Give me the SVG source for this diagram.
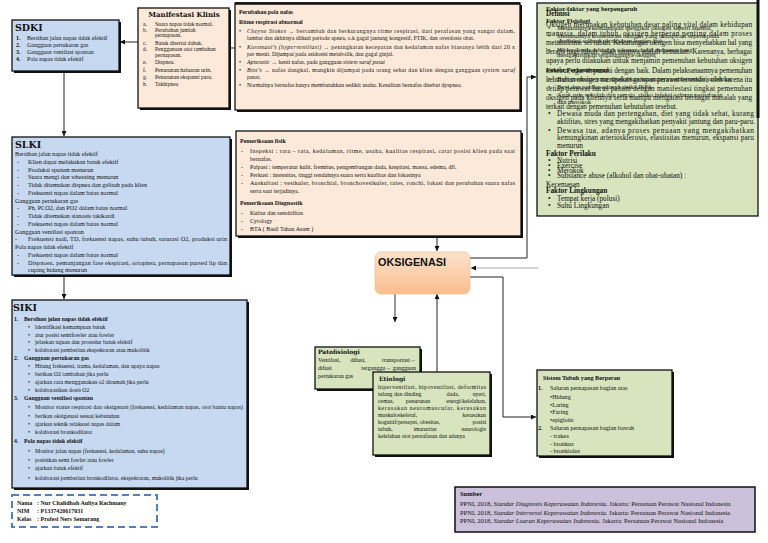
<svg xmlns="http://www.w3.org/2000/svg" width="768" height="543" viewBox="0 0 768 543">
<defs>
<marker id="ah" viewBox="0 0 6 6" refX="6" refY="3" markerWidth="5" markerHeight="5" orient="auto" markerUnits="userSpaceOnUse"><path d="M0,0 L6,3 L0,6 z" fill="#111"/></marker>
<linearGradient id="og" x1="0" y1="0" x2="0" y2="1"><stop offset="0" stop-color="#fde2cc"/><stop offset="1" stop-color="#f9bd8c"/></linearGradient>
<style>
.t{font-family:"Liberation Serif","Times New Roman",serif;fill:#111}
.b{font-weight:bold}
.i{font-style:italic}
.e{text-anchor:end}
.m{text-anchor:middle}
.ttl{font-family:"DejaVu Serif","Liberation Serif",serif;font-weight:bold;fill:#111}
.sh{fill:#111}
.blue{fill:#c6d9f1;stroke:#111;stroke-width:1.3}
.peach{fill:#fde9d9;stroke:#111;stroke-width:1.3}
.green{fill:#d7e4bd;stroke:#111;stroke-width:1.3}
.lav{fill:#ccc1da;stroke:#111;stroke-width:1.5}
.c{fill:none;stroke:#222;stroke-width:1}
</style>
</defs>
<rect width="768" height="543" fill="#fff"/>

<g id="connectors">
<path class="c" d="M138,42 H120" marker-end="url(#ah)"/>
<path class="c" d="M230,48 H236"/>
<path class="c" d="M64,71 V136" marker-end="url(#ah)"/>
<path class="c" d="M64,277 V299" marker-end="url(#ah)"/>
<path class="c" d="M437,238 V251" marker-end="url(#ah)"/>
<path class="c" d="M470,258 H527 V77 H536" marker-end="url(#ah)"/>
<path d="M538,268 H471" fill="none" stroke="#aaa" stroke-width="1.2" marker-end="url(#ah)"/>
<path class="c" d="M470,277 H503 V417 H536" marker-end="url(#ah)"/>
<path d="M395,294 V322" fill="none" stroke="#999" stroke-width="2" marker-end="url(#ah)"/>
<path class="c" d="M437,372 V294" marker-end="url(#ah)"/>
</g>

<g id="sdki">
<rect class="sh" x="14" y="22" width="107" height="51"/>
<rect class="blue" x="12" y="20" width="107" height="51"/>
<text class="ttl" x="15" y="31" font-size="9.5">SDKI</text>
<g class="t" font-size="6">
<text x="16" y="40" class="b">1.</text><text x="27" y="40">Bersihan jalan napas tidak efektif</text>
<text x="16" y="47" class="b">2.</text><text x="27" y="47">Gangguan pertukaran gas</text>
<text x="16" y="54" class="b">3.</text><text x="27" y="54">Gangguan ventilasi spontan</text>
<text x="16" y="61" class="b">4.</text><text x="27" y="61">Pola napas tidak efektif</text>
</g>
</g>

<g id="manifestasi">
<rect class="sh" x="140" y="10" width="91" height="100"/>
<rect class="peach" x="138" y="8" width="91" height="100"/>
<text class="ttl" x="184" y="17" font-size="7" text-anchor="middle">Manifestasi  Klinis</text>
<g class="t" font-size="5.6">
<text x="143" y="26">a.</text><text x="155" y="26">Suara napas tidak normal.</text>
<text x="143" y="32">b.</text><text x="155" y="32">Perubahan jumlah</text>
<text x="155" y="37">pernapasan.</text>
<text x="143" y="45">c.</text><text x="155" y="45">Batuk disertai dahak.</text>
<text x="143" y="51">d.</text><text x="155" y="51">Penggunaan otot tambahan</text>
<text x="155" y="57">pernapasan.</text>
<text x="143" y="64">e.</text><text x="155" y="64">Dispnea.</text>
<text x="143" y="72">f.</text><text x="155" y="72">Penurunan haluaran urin.</text>
<text x="143" y="79">g.</text><text x="155" y="79">Penurunan ekspansi paru.</text>
<text x="143" y="86">h.</text><text x="155" y="86">Takhipnea</text>
</g>
</g>

<g id="perubahan">
<rect class="sh" x="237" y="5" width="285" height="107"/>
<rect class="peach" x="235" y="3" width="285" height="107"/>
<line x1="235" y1="3.5" x2="520" y2="3.5" stroke="#111" stroke-width="2.5"/>
<g class="t" font-size="5.8">
<text x="239" y="14" class="b">Perubahan  pola nafas</text>
<text x="239" y="24" class="b">Ritme respirasi abnormal</text>
<text x="239" y="33">•</text><text x="247" y="33" textLength="268" lengthAdjust="spacing"><tspan class="i">Cheyne Stokes</tspan> → bertambah  dan berkurangnya ritme respirasi, dari perafasan yang sangat dalam,</text>
<text x="247" y="40">lambat dan akhirnya diikuti periode apnea, o.k gagal jantung kongestif, PTIK, dan overdosis obat.</text>
<text x="239" y="49">•</text><text x="247" y="49" textLength="268" lengthAdjust="spacing"><tspan class="i">Kussmaul’s (hyperventilasi)</tspan> → peningkatan kecepatan dan kedalaman nafas  biasanya lebih dari 20 x</text>
<text x="247" y="56">per menit. Dijumpai pada asidosisi metabolik, dan gagal ginjal.</text>
<text x="239" y="64">•</text><text x="247" y="64"><tspan class="i">Apneustic</tspan> → henti nafas, pada  gangguan <tspan class="i">sistem saraf pusat</tspan></text>
<text x="239" y="72">•</text><text x="247" y="72" textLength="268" lengthAdjust="spacing"><tspan class="i">Biot’s</tspan> → nafas dangkal, mungkin dijumpai pada orang sehat dan klien dengan gangguan <tspan class="i">system saraf</tspan></text>
<text x="247" y="79">pusat.</text>
<text x="239" y="87">•</text><text x="247" y="87">Normalnya bernafas hanya membutuhkan sedikit usaha. Kesulitan bernafas disebut  dyspnea.</text>
</g>
</g>

<g id="pemeriksaan">
<rect class="sh" x="238" y="133" width="285" height="105"/>
<rect class="peach" x="236" y="131" width="285" height="105"/>
<g class="t" font-size="6">
<text x="240" y="143" class="b">Pemeriksaan  fisik</text>
<text x="241" y="153">-</text><text x="250" y="153" textLength="265" lengthAdjust="spacing">Inspeksi : rata – rata, kedalaman, ritme, usaha, kualitas respirasi, catat posisi klien pada saat</text>
<text x="250" y="161">bernafas.</text>
<text x="241" y="169">-</text><text x="250" y="169">Palpasi : temperatur kulit, fremitus, pengembangan dada, krepitasi, massa, edema, dll.</text>
<text x="241" y="177">-</text><text x="250" y="177">Perkusi : intensitas, tinggi rendahnya suara serta kualitas dan lokasinya</text>
<text x="241" y="185">-</text><text x="250" y="185" textLength="265" lengthAdjust="spacing">Auskultasi : vesikuler, bronchial, bronchovesikuler, rales, ronchi, lokasi dan perubahan suara nafas</text>
<text x="250" y="193">serta saat terjadinya.</text>
<text x="240" y="205" class="b">Pemeriksaan Diagnostik</text>
<text x="241" y="215">-</text><text x="250" y="215">Kultur dan sensitifitas</text>
<text x="241" y="223">-</text><text x="250" y="223">Cytology</text>
<text x="241" y="231">-</text><text x="250" y="231">BTA ( Basil Tahan Asam )</text>
</g>
</g>

<g id="faktor">
<rect class="green" x="537" y="3" width="221" height="213"/>
<line x1="758" y1="0" x2="758" y2="118" stroke="#111" stroke-width="3"/>
<g class="t" font-size="6.5">
<text x="546" y="11" class="b">Faktor-faktor  yang berpengaruh</text>
<text x="546" y="23" class="b">Faktor Fisiologi</text>
<text x="548" y="30">•</text><text x="557" y="30">Menurunnya kemampuan mengikat oksigen seperti anemia</text>
<text x="548" y="38">•</text><text x="557" y="38">Menurunnya konsentrasi oksigen yang diinspirasi seperti pada</text>
<text x="557" y="43">obstruksi saluran pernapasan bagian atas</text>
<text x="548" y="52">•</text><text x="557" y="52">Hipovolemia sehingga tekanan darah menurun yang</text>
<text x="557" y="57">mengakibatkan terganggunya oksigen</text>
<text x="546" y="72" class="b">Faktor Perkembangan</text>
<text x="548" y="81">•</text><text x="557" y="81">Bayi prematur yang disebabkan kurangnya pembentukan surfaktan</text>
<text x="548" y="89">•</text><text x="557" y="89">Bayi dan toddler adanya risiko ISPA</text>
<text x="548" y="97">•</text><text x="557" y="97">Anak usia sekolah dan remaja, risiko infeksi saluran pernafasan</text>
<text x="557" y="104">dan merokok</text>
</g>
<g class="t" font-size="7.3">
<text x="548" y="116">•</text><text x="557" y="116" textLength="197" lengthAdjust="spacing">Dewasa muda dan pertengahan, diet yang tidak sehat, kurang</text>
<text x="557" y="124">aktifitas, stres yang mengakibatkan penyakit jantung dan paru-paru.</text>
<text x="548" y="133">•</text><text x="557" y="133" textLength="197" lengthAdjust="spacing">Dewasa tua, adanya proses penuaan yang mengakibatkan</text>
<text x="557" y="140" textLength="197" lengthAdjust="spacing">kemungkinan arteriosklerosis, elastisitas menurun, ekspansi paru</text>
<text x="557" y="148">menurun</text>
<text x="546" y="156" class="b">Faktor Perilaku</text>
<text x="548" y="163">•</text><text x="557" y="163">Nutrisi</text>
<text x="548" y="168">•</text><text x="557" y="168">Exercise</text>
<text x="548" y="173">•</text><text x="557" y="173">Merokok</text>
<text x="548" y="178">•</text><text x="557" y="178">Substance abuse (alkohol dan obat-obatan) :</text>
<text x="546" y="187">Kecemasan</text>
<text x="546" y="193" class="b">Faktor Lingkungan</text>
<text x="548" y="201">•</text><text x="557" y="201">Tempat kerja (polusi)</text>
<text x="548" y="208">•</text><text x="557" y="208">Suhu Lingkungan</text>
</g>
</g>

<g id="definisi">
<g class="t" font-size="7.2">
<text x="546" y="16" class="b">Definisi</text>
<text x="546" y="26.5" textLength="206" lengthAdjust="spacing">Oksigen merupakan kebutuhan dasar paling vital dalam kehidupan</text>
<text x="546" y="35.7" textLength="206" lengthAdjust="spacing">manusia, dalam tubuh, oksigen berperan penting dalam proses</text>
<text x="546" y="44.9" textLength="206" lengthAdjust="spacing">metabolisme sel tubuh. Kekurangan oksigen bisa menyebabkan hal yang</text>
<text x="546" y="54.1" textLength="206" lengthAdjust="spacing">berarti bagi tubuh, salah satunya adalah kematian. Karenanya, berbagai</text>
<text x="546" y="63.3" textLength="206" lengthAdjust="spacing">upaya perlu dilakukan untuk menjamin pemenuhan kebutuhan oksigen</text>
<text x="546" y="72.5" textLength="206" lengthAdjust="spacing">tersebut, agar terpenuhi dengan baik. Dalam pelaksanaannya pemenuhan</text>
<text x="546" y="81.7" textLength="206" lengthAdjust="spacing">kebutuhan oksigen merupakan garapan perawat tersendiri, oleh karena itu</text>
<text x="546" y="90.9" textLength="206" lengthAdjust="spacing">setiap perawat harus paham dengan manifestasi tingkat pemenuhan</text>
<text x="546" y="100.1" textLength="206" lengthAdjust="spacing">oksigen pada kliennya serta mampu mengatasi berbagai masalah yang</text>
<text x="546" y="109.3">terkait dengan pemenuhan kebutuhan tesebut.</text>
</g>
</g>

<g id="slki">
<rect class="sh" x="14" y="139" width="218" height="138"/>
<rect class="blue" x="12" y="137" width="218" height="138"/>
<text class="ttl" x="15" y="148" font-size="9.5">SLKI</text>
<g class="t" font-size="6.2">
<text x="15" y="156">Bersihan jalan napas tidak efektif</text>
<text x="17" y="164">-</text><text x="28" y="164">Klien dapat melakukan batuk efektif</text>
<text x="17" y="171.5">-</text><text x="28" y="171.5">Produksi sputum menurun</text>
<text x="17" y="179">-</text><text x="28" y="179">Suara mengi dan wheezing menurun</text>
<text x="17" y="187">-</text><text x="28" y="187">Tidak ditemukan dispnea dan gelisah pada klien</text>
<text x="17" y="195">-</text><text x="28" y="195">Frekuensi napas dalam batas normal</text>
<text x="15" y="202.5">Gangguan pertukaran gas</text>
<text x="17" y="210">-</text><text x="28" y="210">Ph, PCO2, dan PO2 dalam batas normal</text>
<text x="17" y="218">-</text><text x="28" y="218">Tidak ditemukan sianosis takikardi</text>
<text x="17" y="226">-</text><text x="28" y="226">Frekuensi napas dalam batas normal</text>
<text x="15" y="233.5">Gangguan ventilasi spontan</text>
<text x="15" y="241">-</text><text x="28" y="241" textLength="199" lengthAdjust="spacing">Frekuensi nadi, TD, frekuensi napas, suhu tubuh, saturasi O2, produksi urin</text>
<text x="15" y="249">Pola napas tidak efektif</text>
<text x="17" y="257">-</text><text x="28" y="257">Frekuensi napas dalam batas normal</text>
<text x="17" y="265">-</text><text x="28" y="265" textLength="199" lengthAdjust="spacing">Dispnoea, pemanjangan fase ekspirasi, ortopnea, pernapasan pursed lip dan</text>
<text x="28" y="272">cuping hidung menurun</text>
</g>
</g>

<g id="siki">
<rect class="sh" x="14" y="302" width="235" height="188"/>
<rect class="blue" x="12" y="300" width="235" height="188"/>
<text class="ttl" x="13" y="311" font-size="9.5">SIKI</text>
<g class="t" font-size="5.8">
<text x="14" y="321" class="b">1.</text><text x="24" y="321" class="b">Bersihan jalan napas tidak efektif</text>
<text x="28" y="329">•</text><text x="35" y="329">Identifikasi kemampuan batuk</text>
<text x="28" y="336.5">•</text><text x="35" y="336.5">atur posisi semifowler atau fowler</text>
<text x="28" y="344">•</text><text x="35" y="344">jelaskan tujuan dan prosedur batuk efektif</text>
<text x="28" y="351.5">•</text><text x="35" y="351.5">kolaborasi pemberian ekspektoran atau mukolitik</text>
<text x="14" y="360" class="b">2.</text><text x="24" y="360" class="b">Gangguan pertukaran gas</text>
<text x="28" y="368">•</text><text x="35" y="368">Hitung frekuensi, irama, kedalaman, dan upaya napas</text>
<text x="28" y="376">•</text><text x="35" y="376">berikan O2 tambahan jika perlu</text>
<text x="28" y="384">•</text><text x="35" y="384">ajarkan cara menggunakan o2 dirumah jika perlu</text>
<text x="28" y="391.5">•</text><text x="35" y="391.5">kolaborasikan dosis O2</text>
<text x="14" y="400" class="b">3.</text><text x="24" y="400" class="b">Gangguan ventilasi spontan</text>
<text x="28" y="409">•</text><text x="35" y="409" textLength="208" lengthAdjust="spacing">Monitor status respirasi dan oksigenasi (frekuensi, kedalaman napas, otot bantu napas)</text>
<text x="28" y="418">•</text><text x="35" y="418">berikan oksigenasi sesuai kebutuhan</text>
<text x="28" y="426">•</text><text x="35" y="426">ajarkan teknik relaksasi napas dalam</text>
<text x="28" y="434">•</text><text x="35" y="434">kolaborasi bronkodilator</text>
<text x="14" y="443" class="b">4.</text><text x="24" y="443" class="b">Pola napas tidak efektif</text>
<text x="28" y="453">•</text><text x="35" y="453">Monitor jalan napas (frekuensi, kedalaman, suhu napas)</text>
<text x="28" y="461.5">•</text><text x="35" y="461.5">posisikan semi fowler atau fowler</text>
<text x="28" y="470">•</text><text x="35" y="470">ajarkan batuk efektif</text>
<text x="28" y="480">•</text><text x="35" y="480">kolaborasi pemberian bronkodilator, ekspektoran, mukolitik jika perlu</text>
</g>
</g>

<g id="identitas">
<rect x="12" y="495" width="145" height="32" fill="none" stroke="#4f81bd" stroke-width="2" stroke-dasharray="7,4"/>
<g class="t b" font-size="6">
<text x="17" y="505">Nama</text><text x="37" y="505">: Nur Chalidhoh Auliya Rachmany</text>
<text x="17" y="513">NIM</text><text x="37" y="513">: P1337420617031</text>
<text x="17" y="521">Kelas</text><text x="37" y="521">: Profesi Ners Semarang</text>
</g>
</g>

<g id="oksigenasi">
<rect x="375" y="252" width="95" height="42" rx="6" fill="url(#og)" stroke="#f2c09a" stroke-width="0.8"/>
<text x="378" y="266" font-family="'Liberation Sans',Arial,sans-serif" font-weight="bold" font-size="10" textLength="68" lengthAdjust="spacingAndGlyphs" fill="#111">OKSIGENASI</text>
</g>

<g id="patofisiologi">
<rect class="sh" x="317" y="349" width="105" height="42"/>
<rect class="green" x="315" y="347" width="105" height="42"/>
<text class="ttl" x="318" y="354" font-size="6">Patofisiologi</text>
<g class="t" font-size="6">
<text x="318" y="361.5">Ventilasi,</text><text x="358" y="361.5" class="m">difusi,</text><text x="416" y="361.5" class="e">transportasi→</text>
<text x="318" y="369.5">difusi</text><text x="416" y="369.5" class="e">terganggu→ gangguan</text>
<text x="318" y="377.5">pertukaran gas</text>
</g>
</g>

<g id="etiologi">
<rect class="sh" x="375" y="374" width="117" height="83"/>
<rect class="green" x="373" y="372" width="117" height="83"/>
<text class="ttl" x="379" y="381" font-size="6">Etiologi</text>
<g class="t" font-size="5.8">
<text x="378" y="389" textLength="108" lengthAdjust="spacing">hiperventilasi, hipoventilasi, deformitas</text>
<text x="378" y="396">tulang dan dinding</text><text x="453" y="396" class="m">dada,</text><text x="486" y="396" class="e">nyeri,</text>
<text x="378" y="403">cemas,</text><text x="418" y="403" class="m">penurunan</text><text x="486" y="403" class="e">energi/kelelahan,</text>
<text x="378" y="410" textLength="108" lengthAdjust="spacing">kerusakan neuromuscular, kerusakan</text>
<text x="378" y="417">muskuloskeletal,</text><text x="486" y="417" class="e">kerusakan</text>
<text x="378" y="424">kognitif/persepsi, obesitas,</text><text x="486" y="424" class="e">posisi</text>
<text x="378" y="431">tubuh,</text><text x="425" y="431" class="m">imaturitas</text><text x="486" y="431" class="e">neurologis</text>
<text x="378" y="438">kelelahan otot pernafasan dan adanya</text>
</g>
</g>

<g id="sistem">
<rect class="sh" x="539" y="372" width="135" height="86"/>
<rect class="green" x="537" y="370" width="135" height="86"/>
<g class="t" font-size="6.2">
<text x="543" y="380" class="b">Sistem Tubuh yang Berperan</text>
<text x="538" y="390" class="b">1.</text><text x="550" y="390">Saluran pernapasan bagian atas</text>
<text x="550" y="399">•Hidung</text>
<text x="550" y="406.5">•Laring</text>
<text x="550" y="414">•Faring</text>
<text x="550" y="421.5">•epiglotis</text>
<text x="538" y="430" class="b">2.</text><text x="550" y="430">Saluran pernapasan bagian bawah</text>
<text x="550" y="438">- trakea</text>
<text x="550" y="445.5">- bronkus</text>
<text x="550" y="453">- bronkiolus</text>
</g>
</g>

<g id="sumber">
<rect class="lav" x="455" y="487" width="300" height="45"/>
<g class="t" font-size="6.5">
<text x="460" y="496" class="b">Sumber</text>
<text x="460" y="506">PPNI, 2018, <tspan class="i">Standar Diagnosis Keperawatan Indonesia.</tspan> Jakarta: Persatuan Perawat Nasional Indonesia</text>
<text x="460" y="515">PPNI, 2018, <tspan class="i">Standar Intervensi Keperawatan Indonesia.</tspan> Jakarta: Persatuan Perawat Nasional Indonesia</text>
<text x="460" y="523">PPNI, 2018, <tspan class="i">Standar Luaran Keperawatan Indonesia.</tspan> Jakarta: Persatuan Perawat Nasional Indonesia</text>
</g>
</g>
</svg>
